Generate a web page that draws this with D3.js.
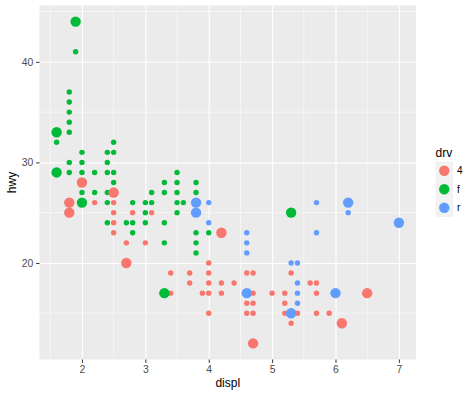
<!DOCTYPE html>
<html>
<head>
<meta charset="utf-8">
<script src="https://cdn.jsdelivr.net/npm/d3@7"></script>
<style>
  body { margin: 0; background: white; }
  text { font-family: "Liberation Sans", Arial, sans-serif; }
  .tick-label { font-size: 10.4px; fill: #4d4d4d; }
  .axis-label { font-size: 12px; fill: black; }
  .key-label { font-size: 10px; fill: black; }
</style>
</head>
<body>
<svg width="474" height="395"></svg>
<script>
// drv levels and their ggplot hue colours
const drvLevels = ['4', 'f', 'r'];
const drvColors = ['#F8766D', '#00BA38', '#619CFF'];

const xTicks = [2, 3, 4, 5, 6, 7];
const yTicks = [20, 30, 40];

// [displ, hwy], small dots
const small4 = [
    [2.2, 26], [2.5, 26], [2.5, 25], [2.5, 24], [2.5, 23], [2.8, 25], [2.7, 22],
    [3.0, 22], [3.1, 25], [3.4, 19], [3.4, 17], [3.7, 19], [3.7, 18], [3.9, 17],
    [4.0, 20], [4.0, 19], [4.0, 18], [4.0, 17], [4.0, 15], [4.2, 18], [4.2, 17],
    [4.4, 18], [4.6, 19], [4.6, 16], [4.6, 15], [4.7, 19], [4.7, 17], [4.7, 16],
    [4.7, 15], [5.0, 17], [5.2, 17], [5.2, 16], [5.2, 15], [5.3, 19], [5.3, 14],
    [5.4, 15], [5.6, 18], [5.7, 18], [5.7, 17], [5.7, 15], [5.9, 15]
];
const smallF = [
    [1.9, 41], [1.8, 37], [1.8, 36], [1.8, 35], [1.8, 34], [1.8, 33], [1.6, 32],
    [1.8, 30], [1.8, 29], [2.0, 31], [2.0, 30], [2.0, 29], [2.0, 27], [2.2, 29],
    [2.2, 27], [2.4, 31], [2.4, 30], [2.4, 29], [2.4, 27], [2.4, 26], [2.4, 24],
    [2.5, 32], [2.5, 31], [2.5, 29], [2.5, 28], [2.7, 24], [2.8, 26], [2.8, 24],
    [2.8, 23], [3.0, 26], [3.0, 25], [3.0, 24], [3.1, 27], [3.1, 26], [3.3, 28],
    [3.3, 27], [3.3, 24], [3.3, 22], [3.5, 29], [3.5, 28], [3.5, 27], [3.5, 26],
    [3.5, 25], [3.6, 26], [3.8, 28], [3.8, 27], [3.8, 23], [3.8, 22], [3.8, 21],
    [4.0, 23]
];
const smallR = [
    [4.0, 26], [4.0, 24], [4.6, 23], [4.6, 22], [4.6, 21], [5.3, 20], [5.4, 20],
    [5.4, 18], [5.4, 17], [5.4, 16], [5.7, 26], [5.7, 23], [6.2, 25]
];

// the bigger dots
const large4 = [
    [2.0, 28], [1.8, 26], [1.8, 25], [2.5, 27], [2.7, 20], [4.2, 23], [4.7, 12],
    [6.1, 14], [6.5, 17]
];
const largeF = [[1.9, 44], [1.6, 33], [1.6, 29], [2.0, 26], [3.3, 17], [5.3, 25]];
const largeR = [
    [3.8, 26], [3.8, 25], [4.6, 17], [5.3, 15], [6.0, 17], [6.2, 26], [7.0, 24]
];

const svg = d3.select('svg');
const svg_width = +svg.attr('width');
const svg_height = +svg.attr('height');

const margin = { top: 5.5, bottom: 35.5, left: 39.5, right: 58 };
const innerWidth = svg_width - margin.left - margin.right;
const innerHeight = svg_height - margin.top - margin.bottom;

// ggplot style 5% expansion of the data range
const allPts = [].concat(small4, smallF, smallR, large4, largeF, largeR);
const xExt = d3.extent(allPts, d => d[0]);
const yExt = d3.extent(allPts, d => d[1]);
const xPad = (xExt[1] - xExt[0]) * 0.05;
const yPad = (yExt[1] - yExt[0]) * 0.05;

const xScale = d3.scaleLinear()
      .domain([xExt[0] - xPad, xExt[1] + xPad])
      .range([0, innerWidth]);
const yScale = d3.scaleLinear()
      .domain([yExt[0] - yPad, yExt[1] + yPad])
      .range([innerHeight, 0]);
const colorScale = d3.scaleOrdinal().domain(drvLevels).range(drvColors);

const g = svg.append('g')
      .attr('transform', `translate(${margin.left}, ${margin.top})`);

g.append('rect')
    .attr('width', innerWidth)
    .attr('height', innerHeight)
    .attr('fill', '#ebebeb');

// minor grid half way between the majors
const xMinor = xTicks.map(t => t - 0.5).filter(t => t > xScale.domain()[0]);
const yMinor = yTicks.map(t => t - 5).concat([yTicks[yTicks.length - 1] + 5])
      .filter(t => t > yScale.domain()[0] && t < yScale.domain()[1]);

g.selectAll('.vminor').data(xMinor).enter().append('line')
    .attr('x1', d => xScale(d)).attr('x2', d => xScale(d))
    .attr('y1', 0).attr('y2', innerHeight)
    .attr('stroke', 'white').attr('stroke-width', 0.55);
g.selectAll('.hminor').data(yMinor).enter().append('line')
    .attr('y1', d => yScale(d)).attr('y2', d => yScale(d))
    .attr('x1', 0).attr('x2', innerWidth)
    .attr('stroke', 'white').attr('stroke-width', 0.55);

// major grid via axes (labels dropped)
const xGrid = g.append('g')
      .attr('transform', `translate(0, ${innerHeight})`)
      .call(d3.axisBottom(xScale).tickValues(xTicks).tickSize(-innerHeight));
const yGrid = g.append('g')
      .call(d3.axisLeft(yScale).tickValues(yTicks).tickSize(-innerWidth));
[xGrid, yGrid].forEach(grid => {
    grid.selectAll('.domain').remove();
    grid.selectAll('text').remove();
    grid.selectAll('line').attr('stroke', 'white').attr('stroke-width', 1.1);
});

// axes with ticks and labels
const fmt = d3.format('d');
const xAxisG = g.append('g')
      .attr('transform', `translate(0, ${innerHeight})`)
      .call(d3.axisBottom(xScale).tickValues(xTicks).tickFormat(fmt).tickSize(3.4).tickPadding(2.4));
const yAxisG = g.append('g')
      .call(d3.axisLeft(yScale).tickValues(yTicks).tickFormat(fmt).tickSize(3.4).tickPadding(2.8));
[xAxisG, yAxisG].forEach(ax => {
    ax.attr('font-size', null).attr('font-family', null);
    ax.selectAll('.domain').remove();
    ax.selectAll('line').attr('stroke', '#333333').attr('stroke-width', 1);
    ax.selectAll('text').attr('class', 'tick-label').attr('fill', null);
});

xAxisG.append('text')
    .attr('class', 'axis-label')
    .attr('x', innerWidth / 2)
    .attr('y', 27.8)
    .attr('text-anchor', 'middle')
    .text('displ');
yAxisG.append('text')
    .attr('class', 'axis-label')
    .attr('transform', `translate(${-margin.left + 16}, ${innerHeight / 2}) rotate(-90)`)
    .attr('text-anchor', 'middle')
    .text('hwy');

// points
const layers = [
    { drv: '4', pts: small4, r: 2.7 },
    { drv: 'f', pts: smallF, r: 2.7 },
    { drv: 'r', pts: smallR, r: 2.7 },
    { drv: '4', pts: large4, r: 5.2 },
    { drv: 'f', pts: largeF, r: 5.2 },
    { drv: 'r', pts: largeR, r: 5.2 },
];
layers.forEach(layer => {
    g.append('g').selectAll('circle').data(layer.pts)
        .enter()
        .append('circle')
        .attr('cx', d => xScale(d[0]))
        .attr('cy', d => yScale(d[1]))
        .attr('r', layer.r)
        .attr('fill', colorScale(layer.drv));
});

// legend
const legend = svg.append('g')
      .attr('transform', 'translate(435.5, 161.5)');
legend.append('text')
    .attr('class', 'axis-label')
    .attr('x', 0)
    .attr('y', -4.5)
    .text('drv');
const keyH = 18.5;
const keys = legend.selectAll('.key').data(drvLevels).enter().append('g')
      .attr('transform', (d, i) => `translate(0, ${i * keyH})`);
keys.append('rect')
    .attr('width', 17.5)
    .attr('height', keyH)
    .attr('fill', '#f2f2f2');
keys.append('circle')
    .attr('cx', 8.75)
    .attr('cy', keyH / 2)
    .attr('r', 5.2)
    .attr('fill', d => colorScale(d));
keys.append('text')
    .attr('class', 'key-label')
    .attr('x', 21.5)
    .attr('y', keyH / 2 + 3.5)
    .text(d => d);
</script>
</body>
</html>
